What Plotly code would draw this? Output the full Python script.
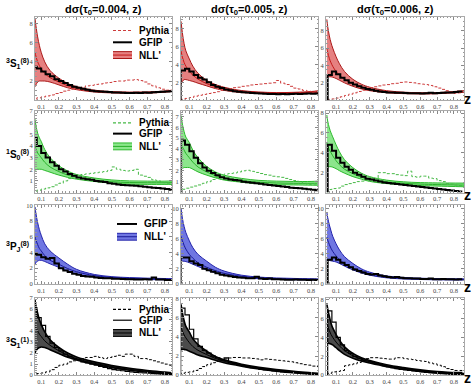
import plotly.graph_objects as go

FIG_W, FIG_H = 474, 389

# ---------------- labels ----------------
TAU0 = ["0.004", "0.005", "0.006"]
STATES = ["<sup>3</sup>S<sub>1</sub><sup>(8)</sup>",
          "<sup>1</sup>S<sub>0</sub><sup>(8)</sup>",
          "<sup>3</sup>P<sub>J</sub><sup>(8)</sup>",
          "<sup>3</sup>S<sub>1</sub><sup>(1)</sup>"]
X_TICKS = [0.1, 0.2, 0.3, 0.4, 0.5, 0.6, 0.7, 0.8]

# histogram bin edges (z)
Z_EDGES = [0.05, 0.075, 0.1, 0.125, 0.15, 0.175, 0.2, 0.225, 0.25, 0.275, 0.3,
           0.325, 0.35, 0.375, 0.4, 0.425, 0.45, 0.475, 0.5, 0.525, 0.55, 0.575,
           0.6, 0.625, 0.65, 0.675, 0.7, 0.725, 0.75, 0.775, 0.8, 0.825, 0.85]

# z sample points of the NLL' band, one per tau0 column
Z_BAND_T004 = [0.065, 0.07, 0.08, 0.09, 0.1, 0.12, 0.15, 0.2, 0.25, 0.3, 0.4, 0.5, 0.6, 0.7, 0.8, 0.84]
Z_BAND_T005 = [0.052, 0.06, 0.07, 0.08, 0.1, 0.12, 0.15, 0.2, 0.25, 0.3, 0.4, 0.5, 0.6, 0.7, 0.8, 0.84]
Z_BAND_T006 = [0.045, 0.05, 0.06, 0.07, 0.08, 0.1, 0.12, 0.15, 0.2, 0.25, 0.3, 0.4, 0.5, 0.6, 0.7, 0.86]

# ---------------- 3S1(8) ----------------
GFIP_3S18_T004 = [3.5, 3.3, 3.0, 2.7, 2.5, 2.2, 2.0, 1.8, 1.6, 1.4, 1.3, 1.2, 1.1, 1.0, 0.95, 0.9,
                  0.88, 0.85, 0.8, 0.8, 0.78, 0.75, 0.75, 0.78, 0.75, 0.8, 0.78, 0.82, 0.85, 0.88, 0.9, 0.95]
GFIP_3S18_T005 = [3.3, 3.5, 3.2, 2.8, 2.5, 2.3, 2.0, 1.7, 1.5, 1.35, 1.2, 1.1, 1.0, 0.95, 0.9, 0.85,
                  0.8, 0.78, 0.75, 0.72, 0.7, 0.7, 0.68, 0.7, 0.68, 0.7, 0.72, 0.7, 0.72, 0.75, 0.72, 0.75]
GFIP_3S18_T006 = [2.9, 3.3, 3.0, 2.6, 2.3, 2.0, 1.8, 1.6, 1.45, 1.3, 1.2, 1.1, 1.0, 0.95, 0.9, 0.88,
                  0.85, 0.85, 0.82, 0.8, 0.8, 0.8, 0.78, 0.8, 0.85, 0.8, 0.82, 0.85, 0.88, 0.9, 0.95, 1.0]
PYTHIA_3S18_T004 = [0.1, 0.25, 0.35, 0.45, 0.55, 0.7, 0.8, 0.95, 1.05, 1.2, 1.3, 1.35, 1.5, 1.55, 1.65, 1.7,
                    1.8, 1.85, 1.95, 2.0, 2.0, 2.1, 2.1, 2.15, 2.05, 1.9, 1.7, 1.5, 1.3, 1.15, 1.05, 0.95]
PYTHIA_3S18_T005 = [0.1, 0.2, 0.3, 0.45, 0.55, 0.65, 0.75, 0.85, 0.95, 1.1, 1.2, 1.3, 1.4, 1.45, 1.55, 1.6,
                    1.7, 1.75, 1.8, 1.85, 1.9, 1.95, 2.2, 1.9, 1.75, 1.55, 1.35, 1.25, 1.1, 1.0, 0.9, 1.0]
PYTHIA_3S18_T006 = [0.1, 0.15, 0.25, 0.4, 0.55, 0.7, 0.85, 1.0, 1.15, 1.3, 1.45, 1.55, 1.65, 1.75, 1.8, 1.9,
                    1.95, 2.05, 2.1, 2.05, 2.0, 1.9, 1.85, 1.8, 1.7, 1.55, 1.4, 1.25, 1.1, 0.95, 0.8, 0.85]
NLL_LO_3S18_T004 = [1.4, 1.6, 1.9, 2.0, 2.0, 2.0, 1.9, 1.6, 1.3, 1.1, 0.86, 0.76, 0.72, 0.74, 0.84, 0.91]
NLL_MID_3S18_T004 = [5.0, 4.6, 4.0, 3.6, 3.3, 2.8, 2.35, 1.9, 1.5, 1.25, 0.95, 0.83, 0.78, 0.8, 0.9, 0.98]
NLL_HI_3S18_T004 = [8.5, 7.8, 6.6, 5.7, 5.0, 4.0, 3.1, 2.3, 1.75, 1.42, 1.05, 0.9, 0.85, 0.87, 0.96, 1.05]
NLL_LO_3S18_T005 = [1.8, 2.1, 2.3, 2.3, 2.2, 2.1, 1.9, 1.6, 1.3, 1.1, 0.85, 0.75, 0.7, 0.72, 0.8, 0.85]
NLL_MID_3S18_T005 = [5.5, 4.8, 4.2, 3.8, 3.2, 2.8, 2.35, 1.85, 1.5, 1.27, 0.97, 0.84, 0.78, 0.81, 0.9, 0.97]
NLL_HI_3S18_T005 = [8.8, 7.5, 6.3, 5.5, 4.6, 3.8, 3.0, 2.2, 1.75, 1.45, 1.08, 0.92, 0.85, 0.88, 0.97, 1.05]
NLL_LO_3S18_T006 = [2.6, 2.7, 2.7, 2.7, 2.65, 2.5, 2.3, 2.0, 1.6, 1.3, 1.1, 0.86, 0.76, 0.72, 0.75, 0.92]
NLL_MID_3S18_T006 = [6.0, 5.5, 4.8, 4.3, 3.9, 3.3, 2.9, 2.4, 1.9, 1.55, 1.3, 0.98, 0.85, 0.8, 0.82, 1.0]
NLL_HI_3S18_T006 = [9.3, 8.5, 7.4, 6.6, 6.0, 5.0, 4.2, 3.3, 2.4, 1.85, 1.5, 1.1, 0.93, 0.86, 0.88, 1.1]

# ---------------- 1S0(8) ----------------
GFIP_1S08_T004 = [4.7, 4.0, 3.4, 3.0, 2.6, 2.3, 2.0, 1.8, 1.6, 1.45, 1.3, 1.2, 1.15, 1.1, 1.0, 0.95,
                  0.9, 0.8, 0.75, 0.7, 0.65, 0.62, 0.6, 0.58, 0.55, 0.5, 0.45, 0.42, 0.38, 0.35, 0.3, 0.25]
GFIP_1S08_T005 = [4.8, 4.4, 3.8, 3.2, 2.7, 2.3, 2.0, 1.8, 1.6, 1.4, 1.3, 1.2, 1.15, 1.1, 1.0, 0.95,
                  0.9, 0.85, 0.8, 0.75, 0.7, 0.65, 0.6, 0.55, 0.5, 0.45, 0.42, 0.4, 0.35, 0.3, 0.25, 0.2]
GFIP_1S08_T006 = [4.8, 4.2, 3.5, 3.0, 2.6, 2.3, 2.0, 1.8, 1.6, 1.4, 1.3, 1.2, 1.1, 1.0, 0.95, 0.9,
                  0.85, 0.8, 0.75, 0.7, 0.65, 0.6, 0.55, 0.5, 0.45, 0.4, 0.35, 0.3, 0.25, 0.2, 0.15, 0.1]
PYTHIA_1S08_T004 = [0.1, 0.2, 0.3, 0.4, 0.5, 0.65, 0.8, 1.0, 1.2, 1.35, 1.5, 1.55, 1.6, 1.65, 1.7, 1.75,
                    1.8, 1.9, 2.2, 2.0, 1.9, 1.85, 1.9, 2.0, 1.5, 1.4, 1.3, 1.1, 1.0, 0.85, 0.8, 0.7]
PYTHIA_1S08_T005 = [0.3, 0.4, 0.5, 0.6, 0.7, 0.85, 1.0, 1.2, 1.4, 1.5, 1.7, 1.75, 1.8, 1.9, 2.0, 2.05,
                    1.95, 1.85, 1.75, 1.65, 1.6, 1.5, 1.45, 1.4, 1.3, 1.2, 1.1, 1.0, 0.85, 0.75, 0.7, 0.7]
PYTHIA_1S08_T006 = [0.3, 0.4, 0.45, 0.65, 0.8, 0.9, 1.0, 1.1, 1.15, 1.25, 1.35, 1.4, 2.0, 2.0, 1.9, 1.9,
                    1.8, 1.75, 1.7, 2.15, 1.6, 1.55, 1.65, 1.65, 1.45, 1.4, 1.2, 1.1, 0.9, 0.85, 0.75, 0.7]
NLL_LO_1S08_T004 = [1.9, 1.95, 2.0, 2.0, 2.0, 1.9, 1.75, 1.5, 1.3, 1.15, 0.95, 0.8, 0.72, 0.7, 0.7, 0.7]
NLL_MID_1S08_T004 = [4.0, 3.8, 3.4, 3.2, 3.0, 2.6, 2.2, 1.8, 1.5, 1.32, 1.08, 0.93, 0.86, 0.84, 0.84, 0.85]
NLL_HI_1S08_T004 = [6.3, 5.8, 5.1, 4.7, 4.4, 3.7, 3.0, 2.3, 1.85, 1.55, 1.25, 1.08, 1.0, 0.98, 0.98, 1.0]
NLL_LO_1S08_T005 = [2.1, 2.2, 2.3, 2.3, 2.3, 2.15, 1.9, 1.6, 1.35, 1.15, 0.95, 0.8, 0.72, 0.7, 0.68, 0.68]
NLL_MID_1S08_T005 = [4.5, 4.2, 3.9, 3.6, 3.2, 2.8, 2.35, 1.9, 1.55, 1.35, 1.1, 0.95, 0.88, 0.85, 0.85, 0.86]
NLL_HI_1S08_T005 = [7.1, 6.3, 5.6, 5.1, 4.6, 3.9, 3.2, 2.4, 1.9, 1.6, 1.3, 1.12, 1.05, 1.02, 1.02, 1.05]
NLL_LO_1S08_T006 = [2.6, 2.6, 2.6, 2.6, 2.55, 2.4, 2.2, 1.95, 1.6, 1.35, 1.12, 0.9, 0.78, 0.7, 0.65, 0.58]
NLL_MID_1S08_T006 = [5.0, 4.7, 4.3, 4.0, 3.7, 3.2, 2.8, 2.35, 1.9, 1.55, 1.33, 1.08, 0.93, 0.85, 0.8, 0.75]
NLL_HI_1S08_T006 = [7.8, 7.2, 6.5, 6.0, 5.6, 4.8, 4.1, 3.3, 2.5, 1.95, 1.6, 1.25, 1.08, 1.0, 0.97, 0.95]

# ---------------- 3PJ(8) ----------------
GFIP_3PJ8_T004 = [3.8, 3.7, 3.4, 3.2, 3.3, 2.6, 2.0, 1.7, 1.5, 1.3, 1.15, 1.0, 0.95, 0.9, 0.8, 0.75,
                  0.72, 0.7, 0.65, 0.65, 0.62, 0.6, 0.6, 0.55, 0.55, 0.58, 0.55, 0.8, 0.55, 0.55, 0.5, 0.5]
GFIP_3PJ8_T005 = [3.5, 3.5, 3.0, 2.7, 2.5, 2.0, 1.8, 1.6, 1.4, 1.2, 1.1, 1.0, 0.9, 0.85, 0.8, 0.75,
                  0.75, 0.95, 0.7, 0.65, 0.7, 0.6, 0.6, 0.58, 0.55, 0.55, 0.58, 0.55, 0.55, 0.5, 0.55, 0.5]
GFIP_3PJ8_T006 = [3.2, 3.5, 3.2, 2.8, 2.5, 2.2, 1.9, 1.7, 1.5, 1.3, 1.25, 1.3, 1.1, 1.0, 0.9, 0.85,
                  0.9, 0.8, 0.75, 0.75, 0.7, 0.7, 0.65, 0.65, 0.7, 0.6, 0.6, 0.65, 0.6, 0.6, 0.58, 0.6]
NLL_LO_3PJ8_T004 = [2.4, 2.7, 2.9, 3.0, 3.0, 2.85, 2.55, 2.1, 1.6, 1.25, 0.88, 0.7, 0.6, 0.55, 0.52, 0.5]
NLL_MID_3PJ8_T004 = [6.0, 5.6, 5.0, 4.5, 4.2, 3.6, 3.0, 2.5, 1.95, 1.55, 1.05, 0.82, 0.7, 0.64, 0.6, 0.58]
NLL_HI_3PJ8_T004 = [9.8, 9.0, 7.8, 6.9, 6.2, 5.1, 4.2, 3.3, 2.5, 1.85, 1.2, 0.92, 0.8, 0.73, 0.68, 0.66]
NLL_LO_3PJ8_T005 = [3.0, 3.0, 3.0, 2.95, 2.8, 2.6, 2.3, 1.85, 1.45, 1.15, 0.85, 0.68, 0.6, 0.55, 0.52, 0.5]
NLL_MID_3PJ8_T005 = [6.3, 5.7, 5.1, 4.6, 3.9, 3.4, 2.8, 2.2, 1.75, 1.4, 1.0, 0.8, 0.7, 0.64, 0.6, 0.58]
NLL_HI_3PJ8_T005 = [10.0, 8.7, 7.6, 6.8, 5.7, 4.8, 3.9, 3.0, 2.2, 1.7, 1.15, 0.9, 0.78, 0.72, 0.68, 0.66]
NLL_LO_3PJ8_T006 = [3.1, 3.1, 3.1, 3.05, 3.0, 2.9, 2.7, 2.35, 1.85, 1.45, 1.15, 0.8, 0.65, 0.58, 0.54, 0.5]
NLL_MID_3PJ8_T006 = [6.2, 5.8, 5.2, 4.7, 4.3, 3.7, 3.2, 2.7, 2.1, 1.7, 1.35, 0.92, 0.75, 0.66, 0.62, 0.58]
NLL_HI_3PJ8_T006 = [9.5, 8.8, 7.8, 7.0, 6.3, 5.3, 4.5, 3.6, 2.7, 2.0, 1.55, 1.05, 0.85, 0.75, 0.7, 0.66]

# ---------------- 3S1(1) ----------------
GFIP_3S11_T004 = [6.1, 5.2, 4.5, 3.5, 2.9, 2.5, 2.2, 1.9, 1.7, 1.5, 1.4, 1.2, 1.1, 1.0, 0.9, 0.8,
                  0.7, 0.6, 0.5, 0.45, 0.4, 0.35, 0.3, 0.25, 0.22, 0.2, 0.18, 0.15, 0.12, 0.1, 0.08, 0.05]
GFIP_3S11_T005 = [7.0, 6.3, 4.8, 3.8, 3.0, 2.6, 2.3, 2.0, 1.8, 1.6, 1.8, 1.3, 1.2, 1.1, 1.0, 0.9,
                  0.8, 0.7, 0.6, 0.55, 0.5, 0.45, 0.4, 0.35, 0.3, 0.28, 0.25, 0.2, 0.18, 0.15, 0.12, 0.1]
GFIP_3S11_T006 = [6.8, 5.6, 4.0, 3.2, 2.6, 2.3, 2.0, 1.8, 1.6, 1.5, 1.4, 1.3, 1.2, 1.0, 0.9, 0.8,
                  0.7, 0.6, 0.55, 0.5, 0.45, 0.4, 0.35, 0.3, 0.28, 0.25, 0.22, 0.2, 0.18, 0.15, 0.3, 0.3]
PYTHIA_3S11_T004 = [0.1, 0.15, 0.2, 0.3, 0.5, 0.7, 0.9, 1.0, 1.2, 1.3, 1.4, 1.5, 1.6, 1.6, 1.7, 1.6,
                    1.5, 1.6, 1.7, 1.8, 1.7, 1.9, 1.9, 1.7, 1.5, 1.5, 1.4, 1.3, 1.2, 1.1, 1.0, 0.9]
PYTHIA_3S11_T005 = [0.2, 0.3, 0.35, 0.5, 0.7, 0.9, 1.1, 1.3, 1.45, 1.55, 1.7, 1.8, 1.85, 1.85, 1.8, 1.8,
                    1.75, 1.7, 1.6, 1.7, 1.65, 1.6, 1.55, 1.5, 1.45, 1.4, 1.3, 1.2, 1.1, 1.05, 0.95, 0.9]
PYTHIA_3S11_T006 = [0.2, 0.35, 0.4, 0.5, 1.0, 1.1, 1.2, 1.35, 1.55, 1.75, 1.85, 1.85, 1.8, 1.75, 1.7, 1.7,
                    1.85, 1.85, 1.75, 1.7, 1.65, 1.55, 1.5, 1.45, 1.3, 1.2, 1.05, 0.9, 0.7, 0.6, 0.5, 0.5]
NLL_LO_3S11_T004 = [2.0, 2.2, 2.4, 2.5, 2.55, 2.5, 2.3, 1.95, 1.62, 1.38, 0.98, 0.68, 0.45, 0.27, 0.13, 0.08]
NLL_MID_3S11_T004 = [4.5, 4.3, 4.0, 3.7, 3.5, 3.1, 2.7, 2.2, 1.8, 1.5, 1.08, 0.78, 0.53, 0.35, 0.2, 0.15]
NLL_HI_3S11_T004 = [6.8, 6.3, 5.6, 5.0, 4.6, 3.9, 3.2, 2.5, 2.0, 1.65, 1.2, 0.88, 0.62, 0.43, 0.28, 0.22]
NLL_LO_3S11_T005 = [2.7, 2.7, 2.7, 2.65, 2.5, 2.35, 2.1, 1.85, 1.55, 1.3, 0.95, 0.66, 0.42, 0.25, 0.1, 0.06]
NLL_MID_3S11_T005 = [5.0, 4.6, 4.2, 3.9, 3.4, 3.0, 2.6, 2.15, 1.75, 1.45, 1.05, 0.74, 0.5, 0.32, 0.18, 0.13]
NLL_HI_3S11_T005 = [7.4, 6.5, 5.7, 5.1, 4.5, 3.8, 3.2, 2.5, 1.95, 1.6, 1.15, 0.82, 0.58, 0.4, 0.26, 0.2]
NLL_LO_3S11_T006 = [3.4, 3.4, 3.35, 3.3, 3.2, 2.9, 2.6, 2.2, 1.8, 1.5, 1.28, 0.9, 0.62, 0.4, 0.22, 0.05]
NLL_MID_3S11_T006 = [5.5, 5.2, 4.7, 4.3, 4.0, 3.5, 3.1, 2.6, 2.05, 1.7, 1.42, 1.0, 0.72, 0.48, 0.3, 0.12]
NLL_HI_3S11_T006 = [7.6, 7.0, 6.2, 5.5, 5.0, 4.3, 3.7, 3.0, 2.3, 1.85, 1.55, 1.1, 0.8, 0.56, 0.38, 0.18]

# ---------------- assemble ----------------
Z_BAND = [Z_BAND_T004, Z_BAND_T005, Z_BAND_T006]
GFIP = [[GFIP_3S18_T004, GFIP_3S18_T005, GFIP_3S18_T006],
        [GFIP_1S08_T004, GFIP_1S08_T005, GFIP_1S08_T006],
        [GFIP_3PJ8_T004, GFIP_3PJ8_T005, GFIP_3PJ8_T006],
        [GFIP_3S11_T004, GFIP_3S11_T005, GFIP_3S11_T006]]
PYTHIA = [[PYTHIA_3S18_T004, PYTHIA_3S18_T005, PYTHIA_3S18_T006],
          [PYTHIA_1S08_T004, PYTHIA_1S08_T005, PYTHIA_1S08_T006],
          None,
          [PYTHIA_3S11_T004, PYTHIA_3S11_T005, PYTHIA_3S11_T006]]
NLL = [[(NLL_LO_3S18_T004, NLL_MID_3S18_T004, NLL_HI_3S18_T004),
        (NLL_LO_3S18_T005, NLL_MID_3S18_T005, NLL_HI_3S18_T005),
        (NLL_LO_3S18_T006, NLL_MID_3S18_T006, NLL_HI_3S18_T006)],
       [(NLL_LO_1S08_T004, NLL_MID_1S08_T004, NLL_HI_1S08_T004),
        (NLL_LO_1S08_T005, NLL_MID_1S08_T005, NLL_HI_1S08_T005),
        (NLL_LO_1S08_T006, NLL_MID_1S08_T006, NLL_HI_1S08_T006)],
       [(NLL_LO_3PJ8_T004, NLL_MID_3PJ8_T004, NLL_HI_3PJ8_T004),
        (NLL_LO_3PJ8_T005, NLL_MID_3PJ8_T005, NLL_HI_3PJ8_T005),
        (NLL_LO_3PJ8_T006, NLL_MID_3PJ8_T006, NLL_HI_3PJ8_T006)],
       [(NLL_LO_3S11_T004, NLL_MID_3S11_T004, NLL_HI_3S11_T004),
        (NLL_LO_3S11_T005, NLL_MID_3S11_T005, NLL_HI_3S11_T005),
        (NLL_LO_3S11_T006, NLL_MID_3S11_T006, NLL_HI_3S11_T006)]]

# ---------------- layout geometry / styles ----------------
COL_PX = [(35, 172), (181, 318), (326, 464)]
ROW_PX = [(13, 98), (109, 192), (205, 285), (299, 378)]
X_RANGES = [[0.065, 0.84], [0.052, 0.84], [0.04, 0.86]]
Y_MAX = [[8.7, 9.3, 9.6], [7.0, 7.5, 8.2], [10.0, 10.4, 10.4], [7.0, 8.1, 8.2]]
Y_TICKS = [[[2, 4, 6, 8]] * 3,
           [[1, 2, 3, 4, 5, 6, 7], [1, 2, 3, 4, 5, 6, 7], [2, 4, 6, 8]],
           [[0, 2, 4, 6, 8, 10]] * 3,
           [[0, 1, 2, 3, 4, 5, 6, 7], [0, 2, 4, 6, 8], [0, 2, 4, 6, 8]]]
Y_MINOR = [[0.5] * 3, [0.2, 0.2, 0.5], [0.5] * 3, [0.2, 0.5, 0.5]]

STYLE = [
    dict(fill='rgba(214,50,50,0.62)', edge='rgb(170,25,25)', mid='rgb(195,25,25)', py='rgb(205,60,60)', gw=2.0, ew=1.0),
    dict(fill='rgba(70,215,70,0.62)', edge='rgb(45,185,45)', mid='rgb(40,175,40)', py='rgb(70,185,70)', gw=2.0, ew=1.0),
    dict(fill='rgba(55,65,215,0.72)', edge='rgb(35,35,170)', mid='rgb(25,25,150)', py=None, gw=2.0, ew=1.0),
    dict(fill='rgba(50,50,50,0.88)', edge='rgb(0,0,0)', mid='rgb(0,0,0)', py='rgb(0,0,0)', gw=1.2, ew=1.6),
]


def px(x):
    return x / FIG_W


def py(y):
    return 1 - y / FIG_H


def step_xy(vals):
    xs = [Z_EDGES[0]] + Z_EDGES[:len(vals)] + [Z_EDGES[len(vals)]]
    ys = [0] + list(vals) + [vals[-1]]
    return xs, ys


fig = go.Figure()
layout = dict(width=FIG_W, height=FIG_H, margin=dict(l=0, r=0, t=0, b=0),
              paper_bgcolor='white', plot_bgcolor='white', showlegend=False)

TICKFONT = dict(family='Liberation Serif', size=6.5, color='#444')

for r in range(4):
    st = STYLE[r]
    for c in range(3):
        idx = r * 3 + c + 1
        xa = 'x' if idx == 1 else f'x{idx}'
        ya = 'y' if idx == 1 else f'y{idx}'
        lo, mid, hi = NLL[r][c]
        zb = Z_BAND[c]
        fig.add_trace(go.Scatter(x=zb, y=lo, mode='lines', xaxis=xa, yaxis=ya,
                                 line=dict(color=st['edge'], width=st['ew'], shape='spline'),
                                 hoverinfo='skip'))
        fig.add_trace(go.Scatter(x=zb, y=hi, mode='lines', xaxis=xa, yaxis=ya, fill='tonexty',
                                 fillcolor=st['fill'],
                                 line=dict(color=st['edge'], width=st['ew'], shape='spline'),
                                 hoverinfo='skip'))
        fig.add_trace(go.Scatter(x=zb, y=mid, mode='lines', xaxis=xa, yaxis=ya,
                                 line=dict(color=st['mid'], width=1.0, shape='spline'),
                                 hoverinfo='skip'))
        if PYTHIA[r] is not None:
            xs, ys = step_xy(PYTHIA[r][c])
            fig.add_trace(go.Scatter(x=xs, y=ys, mode='lines', xaxis=xa, yaxis=ya,
                                     line=dict(color=st['py'], width=1.0, shape='hv', dash='3px,2px'),
                                     hoverinfo='skip'))
        xs, ys = step_xy(GFIP[r][c])
        fig.add_trace(go.Scatter(x=xs, y=ys, mode='lines', xaxis=xa, yaxis=ya,
                                 line=dict(color='black', width=st['gw'], shape='hv'),
                                 hoverinfo='skip'))

        x0, x1 = COL_PX[c]
        ytop, ybot = ROW_PX[r]
        common = dict(showline=True, mirror='allticks', linecolor='#aaaaaa', linewidth=1,
                      ticks='inside', ticklen=3, tickcolor='#888', tickwidth=0.8,
                      showgrid=False, zeroline=False, tickfont=TICKFONT, ticklabelstandoff=0)
        layout['xaxis' if idx == 1 else f'xaxis{idx}'] = dict(
            domain=[px(x0), px(x1)], range=X_RANGES[c], anchor=ya,
            tickvals=X_TICKS, ticktext=[f'{v:.1f}' for v in X_TICKS],
            minor=dict(ticks='inside', ticklen=1.5, dtick=0.02, tick0=0, tickcolor='#999', tickwidth=0.6),
            **common)
        layout['yaxis' if idx == 1 else f'yaxis{idx}'] = dict(
            domain=[py(ybot), py(ytop)], range=[0, Y_MAX[r][c]], anchor=xa,
            tickvals=Y_TICKS[r][c], ticktext=[str(v) for v in Y_TICKS[r][c]],
            minor=dict(ticks='inside', ticklen=1.5, dtick=Y_MINOR[r][c], tick0=0, tickcolor='#999', tickwidth=0.6),
            **common)

fig.update_layout(**layout)

annotations = []
shapes = []
BOLD = dict(family='Liberation Sans', color='black')

# column titles
for c in range(3):
    x0, x1 = COL_PX[c]
    annotations.append(dict(x=px((x0 + x1) / 2), y=py(6), xref='paper', yref='paper',
                            text=f'<b>d\u03c3(\u03c4<sub>0</sub>={TAU0[c]}, z)</b>', showarrow=False,
                            xanchor='center', yanchor='middle', font=dict(size=11, **BOLD)))

# row labels
ROW_LABEL_Y = [61, 153, 247, 345]
for r in range(4):
    annotations.append(dict(x=px(17), y=py(ROW_LABEL_Y[r]), xref='paper', yref='paper',
                            text=f'<b>{STATES[r]}</b>', showarrow=False,
                            xanchor='center', yanchor='middle', font=dict(size=10, **BOLD)))

# z axis labels on the right
Z_LABEL_Y = [97, 195, 288, 381]
for r in range(4):
    annotations.append(dict(x=px(473), y=py(Z_LABEL_Y[r]), xref='paper', yref='paper',
                            text='<b>z</b>', showarrow=False,
                            xanchor='right', yanchor='middle', font=dict(size=14, **BOLD)))

# hand-drawn legends in the first column
LEGENDS = [
    dict(row=0, items=[('Pythia', 27), ('GFIP', 39), ("NLL'", 52)], sx=(113, 132), tx=137),
    dict(row=1, items=[('Pythia', 121), ('GFIP', 132), ("NLL'", 145)], sx=(113, 132), tx=137),
    dict(row=2, items=[('GFIP', 224), ("NLL'", 237)], sx=(117, 137), tx=142),
    dict(row=3, items=[('Pythia', 311), ('GFIP', 322), ("NLL'", 335)], sx=(113, 132), tx=137),
]
for lg in LEGENDS:
    st = STYLE[lg['row']]
    sx0, sx1 = lg['sx']
    for name, yy in lg['items']:
        if name == 'Pythia':
            shapes.append(dict(type='line', xref='paper', yref='paper', x0=px(sx0), x1=px(sx1),
                               y0=py(yy), y1=py(yy), line=dict(color=st['py'], width=1.2, dash='3px,2px')))
        elif name == 'GFIP':
            shapes.append(dict(type='line', xref='paper', yref='paper', x0=px(sx0), x1=px(sx1),
                               y0=py(yy), y1=py(yy), line=dict(color='black', width=st['gw'])))
        else:
            shapes.append(dict(type='rect', xref='paper', yref='paper', x0=px(sx0), x1=px(sx1),
                               y0=py(yy + 3.5), y1=py(yy - 3.5), fillcolor=st['fill'],
                               line=dict(width=0)))
            for dy in (-3.5, 3.5):
                shapes.append(dict(type='line', xref='paper', yref='paper', x0=px(sx0), x1=px(sx1),
                                   y0=py(yy + dy), y1=py(yy + dy), line=dict(color=st['edge'], width=1)))
            shapes.append(dict(type='line', xref='paper', yref='paper', x0=px(sx0), x1=px(sx1),
                               y0=py(yy), y1=py(yy), line=dict(color=st['mid'], width=1)))
        annotations.append(dict(x=px(lg['tx']), y=py(yy), xref='paper', yref='paper',
                                text=f'<b>{name}</b>', showarrow=False,
                                xanchor='left', yanchor='middle', font=dict(size=10, **BOLD)))

fig.update_layout(annotations=annotations, shapes=shapes)
# remove the browser's default page margin so the figure sits at the window origin
fig.write_html('out.html', config={'displayModeBar': False},
               post_script="document.body.style.margin='0';")
